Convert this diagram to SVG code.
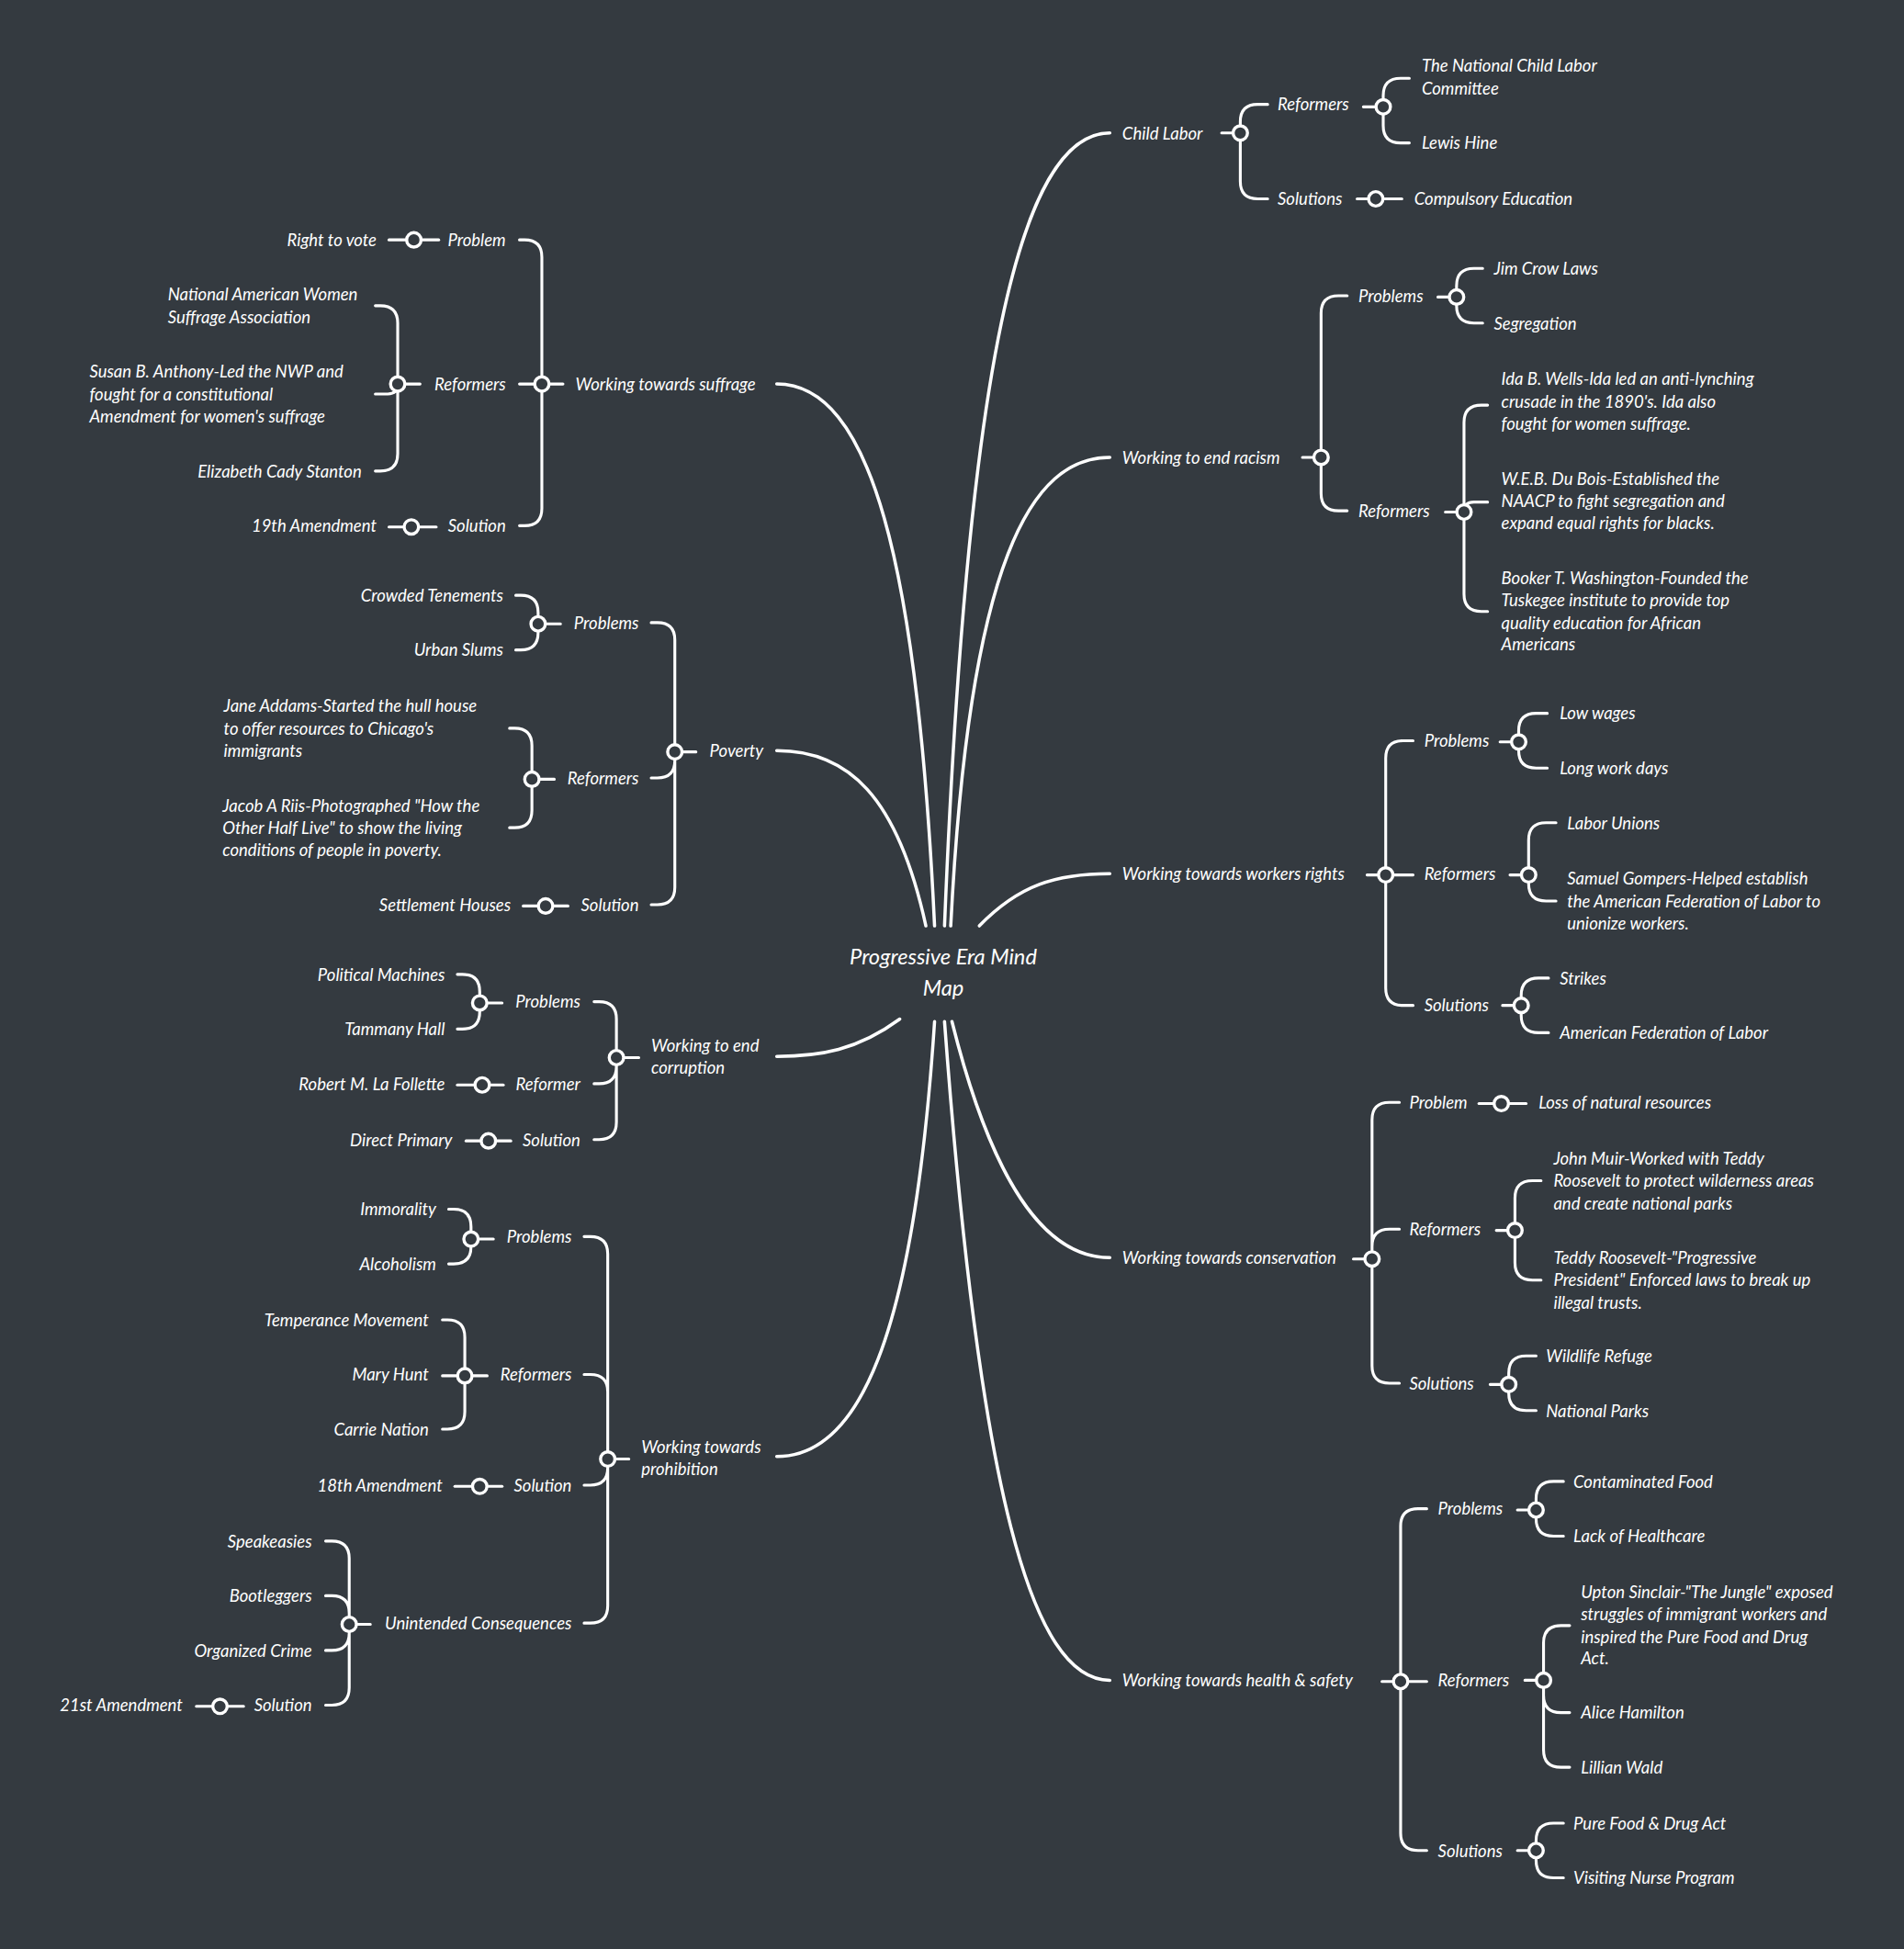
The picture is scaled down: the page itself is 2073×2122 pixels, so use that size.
<svg xmlns="http://www.w3.org/2000/svg" width="2073" height="2122" viewBox="0 0 2073 2122">
<style>
text{font-family:Lato,"Open Sans","Liberation Sans",sans-serif;font-style:italic;font-size:13.7px;fill:#ffffff}
.e{text-anchor:end}
.t{font-size:17.5px;text-anchor:middle}
path,line{fill:none;stroke:#ffffff;stroke-width:2.3;stroke-linecap:round}
.m{stroke-width:2.6}
circle{fill:#343a40;stroke:#ffffff;stroke-width:2.5}
</style>
<rect width="2073" height="2122" fill="#343a40"/>
<g transform="scale(1.3531)">
<g id="connectors">
<path class="m" d="M745,745 C722,640 682,604 625,604"/>
<path class="m" d="M752,745 C738,450 700,309 625,309"/>
<path class="m" d="M760,745 C778,300 820,107 893,107"/>
<path class="m" d="M765,745 C780,450 830,368 893,368"/>
<path class="m" d="M788,745 C820,712 850,703 893,703"/>
<path class="m" d="M724,820 C690,845 660,850 625,850"/>
<path class="m" d="M752,822 C735,1080 690,1172 625,1172"/>
<path class="m" d="M766,822 C798,950 840,1012 893,1012"/>
<path class="m" d="M760,822 C788,1200 830,1352 893,1352"/>
<path d="M983,107 L998,107 M998,107 L998,98 Q998,84 1012,84 L1020,84 M998,107 L998,146 Q998,160 1012,160 L1020,160"/>
<path d="M1097,86 L1113,86 L1113,77 Q1113,63 1127,63 L1134,63 M1113,86 L1113,101 Q1113,115 1127,115 L1134,115"/>
<path d="M1092,160 L1128,160"/>
<path d="M1048,368 L1063,368 L1063,252 Q1063,238 1077,238 L1084,238 M1063,368 L1063,397 Q1063,411 1077,411 L1084,411"/>
<path d="M1157,239 L1172,239 L1172,230 Q1172,216 1186,216 L1193,216 M1172,239 L1172,246 Q1172,260 1186,260 L1193,260"/>
<path d="M1163,412 L1178,412 L1178,340 Q1178,326 1192,326 L1197,326 M1178,412 Q1178,404 1186,404 L1197,404 M1178,412 L1178,478 Q1178,492 1192,492 L1197,492"/>
<path d="M1100,704 L1137,704 M1115,704 L1115,610 Q1115,596 1129,596 L1137,596 M1115,704 L1115,795 Q1115,809 1129,809 L1137,809"/>
<path d="M1207,597 L1222,597 L1222,588 Q1222,574 1236,574 L1245,574 M1222,597 L1222,604 Q1222,618 1236,618 L1245,618"/>
<path d="M1215,704 L1230,704 L1230,676 Q1230,662 1244,662 L1252,662 M1230,704 L1230,711 Q1230,725 1244,725 L1252,725"/>
<path d="M1209,809 L1224,809 L1224,801 Q1224,787 1238,787 L1246,787 M1224,809 L1224,817 Q1224,831 1238,831 L1246,831"/>
<path d="M1089,1013 L1104,1013 L1104,901 Q1104,887 1118,887 L1126,887 M1104,1013 L1104,1003 Q1104,989 1118,989 L1126,989 M1104,1013 L1104,1099 Q1104,1113 1118,1113 L1126,1113"/>
<path d="M1190,888 L1228,888"/>
<path d="M1204,990 L1219,990 L1219,964 Q1219,950 1233,950 L1240,950 M1219,990 L1219,1016 Q1219,1030 1233,1030 L1240,1030"/>
<path d="M1199,1114 L1214,1114 L1214,1105 Q1214,1091 1228,1091 L1236,1091 M1214,1114 L1214,1121 Q1214,1135 1228,1135 L1236,1135"/>
<path d="M1112,1353 L1148,1353 M1127,1353 L1127,1228 Q1127,1214 1141,1214 L1148,1214 M1127,1353 L1127,1475 Q1127,1489 1141,1489 L1148,1489"/>
<path d="M1221,1215 L1236,1215 L1236,1206 Q1236,1192 1250,1192 L1258,1192 M1236,1215 L1236,1222 Q1236,1236 1250,1236 L1258,1236"/>
<path d="M1227,1352 L1242,1352 L1242,1322 Q1242,1308 1256,1308 L1263,1308 M1242,1352 L1242,1364 Q1242,1378 1256,1378 L1263,1378 M1242,1352 L1242,1408 Q1242,1422 1256,1422 L1263,1422"/>
<path d="M1221,1489 L1236,1489 L1236,1481 Q1236,1467 1250,1467 L1258,1467 M1236,1489 L1236,1497 Q1236,1511 1250,1511 L1258,1511"/>
<path d="M453,309 L418,309 M436,309 L436,207 Q436,193 422,193 L418,193 M436,309 L436,409 Q436,423 422,423 L418,423"/>
<path d="M313,193 L353,193"/>
<path d="M338,309 L320,309 L320,260 Q320,246 306,246 L302,246 M320,309 Q320,317 312,317 L302,317 M320,309 L320,365 Q320,379 306,379 L302,379"/>
<path d="M313,424 L351,424"/>
<path d="M560,605 L543,605 L543,515 Q543,501 529,501 L524,501 M543,605 L543,612 Q543,626 529,626 L524,626 M543,605 L543,714 Q543,728 529,728 L524,728"/>
<path d="M451,502 L433,502 L433,493 Q433,479 419,479 L415,479 M433,502 L433,509 Q433,523 419,523 L415,523"/>
<path d="M446,627 L428,627 L428,600 Q428,586 414,586 L410,586 M428,627 L428,652 Q428,666 414,666 L410,666"/>
<path d="M421,729 L457,729"/>
<path d="M514,851 L496,851 L496,820 Q496,806 482,806 L478,806 M496,851 L496,858 Q496,872 482,872 L478,872 M496,851 L496,903 Q496,917 482,917 L478,917"/>
<path d="M404,807 L386,807 L386,798 Q386,784 372,784 L368,784 M386,807 L386,814 Q386,828 372,828 L368,828"/>
<path d="M368,873 L405,873"/>
<path d="M375,918 L411,918"/>
<path d="M506,1174 L489,1174 L489,1009 Q489,995 475,995 L470,995 M489,1174 L489,1120 Q489,1106 475,1106 L470,1106 M489,1174 L489,1181 Q489,1195 475,1195 L470,1195 M489,1174 L489,1292 Q489,1306 475,1306 L470,1306"/>
<path d="M397,997 L379,997 L379,987 Q379,973 365,973 L361,973 M379,997 L379,1003 Q379,1017 365,1017 L361,1017"/>
<path d="M392,1107 L356,1107 M374,1107 L374,1076 Q374,1062 360,1062 L356,1062 M374,1107 L374,1136 Q374,1150 360,1150 L356,1150"/>
<path d="M366,1196 L404,1196"/>
<path d="M298,1307 L281,1307 L281,1254 Q281,1240 267,1240 L262,1240 M281,1307 L281,1298 Q281,1284 267,1284 L262,1284 M281,1307 L281,1314 Q281,1328 267,1328 L262,1328 M281,1307 L281,1358 Q281,1372 267,1372 L262,1372"/>
<path d="M158,1373 L196,1373"/>
</g>
<g id="circles">
<circle cx="998" cy="107" r="5.8"/><circle cx="1113" cy="86" r="5.8"/><circle cx="1107" cy="160" r="5.8"/>
<circle cx="1063" cy="368" r="5.8"/><circle cx="1172" cy="239" r="5.8"/><circle cx="1178" cy="412" r="5.8"/>
<circle cx="1115" cy="704" r="5.8"/><circle cx="1222" cy="597" r="5.8"/><circle cx="1230" cy="704" r="5.8"/><circle cx="1224" cy="809" r="5.8"/>
<circle cx="1104" cy="1013" r="5.8"/><circle cx="1208" cy="888" r="5.8"/><circle cx="1219" cy="990" r="5.8"/><circle cx="1214" cy="1114" r="5.8"/>
<circle cx="1127" cy="1353" r="5.8"/><circle cx="1236" cy="1215" r="5.8"/><circle cx="1242" cy="1352" r="5.8"/><circle cx="1236" cy="1489" r="5.8"/>
<circle cx="436" cy="309" r="5.8"/><circle cx="333" cy="193" r="5.8"/><circle cx="320" cy="309" r="5.8"/><circle cx="331" cy="424" r="5.8"/>
<circle cx="543" cy="605" r="5.8"/><circle cx="433" cy="502" r="5.8"/><circle cx="428" cy="627" r="5.8"/><circle cx="439" cy="729" r="5.8"/>
<circle cx="496" cy="851" r="5.8"/><circle cx="386" cy="807" r="5.8"/><circle cx="388" cy="873" r="5.8"/><circle cx="393" cy="918" r="5.8"/>
<circle cx="489" cy="1174" r="5.8"/><circle cx="379" cy="997" r="5.8"/><circle cx="374" cy="1107" r="5.8"/><circle cx="386" cy="1196" r="5.8"/><circle cx="281" cy="1307" r="5.8"/><circle cx="177" cy="1373" r="5.8"/>
</g>
<g id="center"><text class="t" x="759" y="776">Progressive Era Mind</text><text class="t" x="759" y="801">Map</text></g>
<g id="child-labor">
<text x="903" y="112">Child Labor</text>
<text x="1028" y="89">Reformers</text><text x="1028" y="165">Solutions</text>
<text x="1144" y="58">The National Child Labor</text><text x="1144" y="76">Committee</text>
<text x="1144" y="120">Lewis Hine</text><text x="1138" y="165">Compulsory Education</text>
</g>
<g id="racism">
<text x="903" y="373">Working to end racism</text>
<text x="1093" y="243">Problems</text><text x="1093" y="416">Reformers</text>
<text x="1202" y="221">Jim Crow Laws</text><text x="1202" y="265">Segregation</text>
<text x="1208" y="310">Ida B. Wells-Ida led an anti-lynching</text><text x="1208" y="328">crusade in the 1890's. Ida also</text><text x="1208" y="346">fought for women suffrage.</text>
<text x="1208" y="390">W.E.B. Du Bois-Established the</text><text x="1208" y="408">NAACP to fight segregation and</text><text x="1208" y="426">expand equal rights for blacks.</text>
<text x="1208" y="470">Booker T. Washington-Founded the</text><text x="1208" y="488">Tuskegee institute to provide top</text><text x="1208" y="506">quality education for African</text><text x="1208" y="523">Americans</text>
</g>
<g id="workers">
<text x="903" y="708">Working towards workers rights</text>
<text x="1146" y="601">Problems</text><text x="1146" y="708">Reformers</text><text x="1146" y="814">Solutions</text>
<text x="1255" y="579">Low wages</text><text x="1255" y="623">Long work days</text>
<text x="1261" y="667">Labor Unions</text>
<text x="1261" y="712">Samuel Gompers-Helped establish</text><text x="1261" y="730">the American Federation of Labor to</text><text x="1261" y="748">unionize workers.</text>
<text x="1255" y="792">Strikes</text><text x="1255" y="836">American Federation of Labor</text>
</g>
<g id="conservation">
<text x="903" y="1017">Working towards conservation</text>
<text x="1134" y="892">Problem</text><text x="1134" y="994">Reformers</text><text x="1134" y="1118">Solutions</text>
<text x="1238" y="892">Loss of natural resources</text>
<text x="1250" y="937">John Muir-Worked with Teddy</text><text x="1250" y="955">Roosevelt to protect wilderness areas</text><text x="1250" y="973">and create national parks</text>
<text x="1250" y="1017">Teddy Roosevelt-"Progressive</text><text x="1250" y="1035">President" Enforced laws to break up</text><text x="1250" y="1053">illegal trusts.</text>
<text x="1244" y="1096">Wildlife Refuge</text><text x="1244" y="1140">National Parks</text>
</g>
<g id="health">
<text x="903" y="1357">Working towards health &amp; safety</text>
<text x="1157" y="1219">Problems</text><text x="1157" y="1357">Reformers</text><text x="1157" y="1494">Solutions</text>
<text x="1266" y="1197">Contaminated Food</text><text x="1266" y="1241">Lack of Healthcare</text>
<text x="1272" y="1286">Upton Sinclair-"The Jungle" exposed</text><text x="1272" y="1304">struggles of immigrant workers and</text><text x="1272" y="1322">inspired the Pure Food and Drug</text><text x="1272" y="1339">Act.</text>
<text x="1272" y="1383">Alice Hamilton</text><text x="1272" y="1427">Lillian Wald</text>
<text x="1266" y="1472">Pure Food &amp; Drug Act</text><text x="1266" y="1516">Visiting Nurse Program</text>
</g>
<g id="suffrage">
<text x="463" y="314">Working towards suffrage</text>
<text class="e" x="407" y="198">Problem</text><text class="e" x="407" y="314">Reformers</text><text class="e" x="407" y="428">Solution</text>
<text class="e" x="303" y="198">Right to vote</text>
<text x="135" y="242">National American Women</text><text x="135" y="260">Suffrage Association</text>
<text x="72" y="304">Susan B. Anthony-Led the NWP and</text><text x="72" y="322">fought for a constitutional</text><text x="72" y="340">Amendment for women's suffrage</text>
<text class="e" x="291" y="384">Elizabeth Cady Stanton</text>
<text class="e" x="303" y="428">19th Amendment</text>
</g>
<g id="poverty">
<text x="571" y="609">Poverty</text>
<text class="e" x="514" y="506">Problems</text><text class="e" x="514" y="631">Reformers</text><text class="e" x="514" y="733">Solution</text>
<text class="e" x="405" y="484">Crowded Tenements</text><text class="e" x="405" y="528">Urban Slums</text>
<text x="180" y="573">Jane Addams-Started the hull house</text><text x="180" y="591">to offer resources to Chicago's</text><text x="180" y="609">immigrants</text>
<text x="179" y="653">Jacob A Riis-Photographed "How the</text><text x="179" y="671">Other Half Live" to show the living</text><text x="179" y="689">conditions of people in poverty.</text>
<text class="e" x="411" y="733">Settlement Houses</text>
</g>
<g id="corruption">
<text x="524" y="846">Working to end</text><text x="524" y="864">corruption</text>
<text class="e" x="467" y="811">Problems</text><text class="e" x="467" y="877">Reformer</text><text class="e" x="467" y="922">Solution</text>
<text class="e" x="358" y="789">Political Machines</text><text class="e" x="358" y="833">Tammany Hall</text>
<text class="e" x="358" y="877">Robert M. La Follette</text><text class="e" x="364" y="922">Direct Primary</text>
</g>
<g id="prohibition">
<text x="516" y="1169">Working towards</text><text x="516" y="1187">prohibition</text>
<text class="e" x="460" y="1000">Problems</text><text class="e" x="460" y="1111">Reformers</text><text class="e" x="460" y="1200">Solution</text><text class="e" x="460" y="1311">Unintended Consequences</text>
<text class="e" x="351" y="978">Immorality</text><text class="e" x="351" y="1022">Alcoholism</text>
<text class="e" x="345" y="1067">Temperance Movement</text><text class="e" x="345" y="1111">Mary Hunt</text><text class="e" x="345" y="1155">Carrie Nation</text>
<text class="e" x="356" y="1200">18th Amendment</text>
<text class="e" x="251" y="1245">Speakeasies</text><text class="e" x="251" y="1289">Bootleggers</text><text class="e" x="251" y="1333">Organized Crime</text><text class="e" x="251" y="1377">Solution</text>
<text class="e" x="147" y="1377">21st Amendment</text>
</g>
</g>
</svg>
